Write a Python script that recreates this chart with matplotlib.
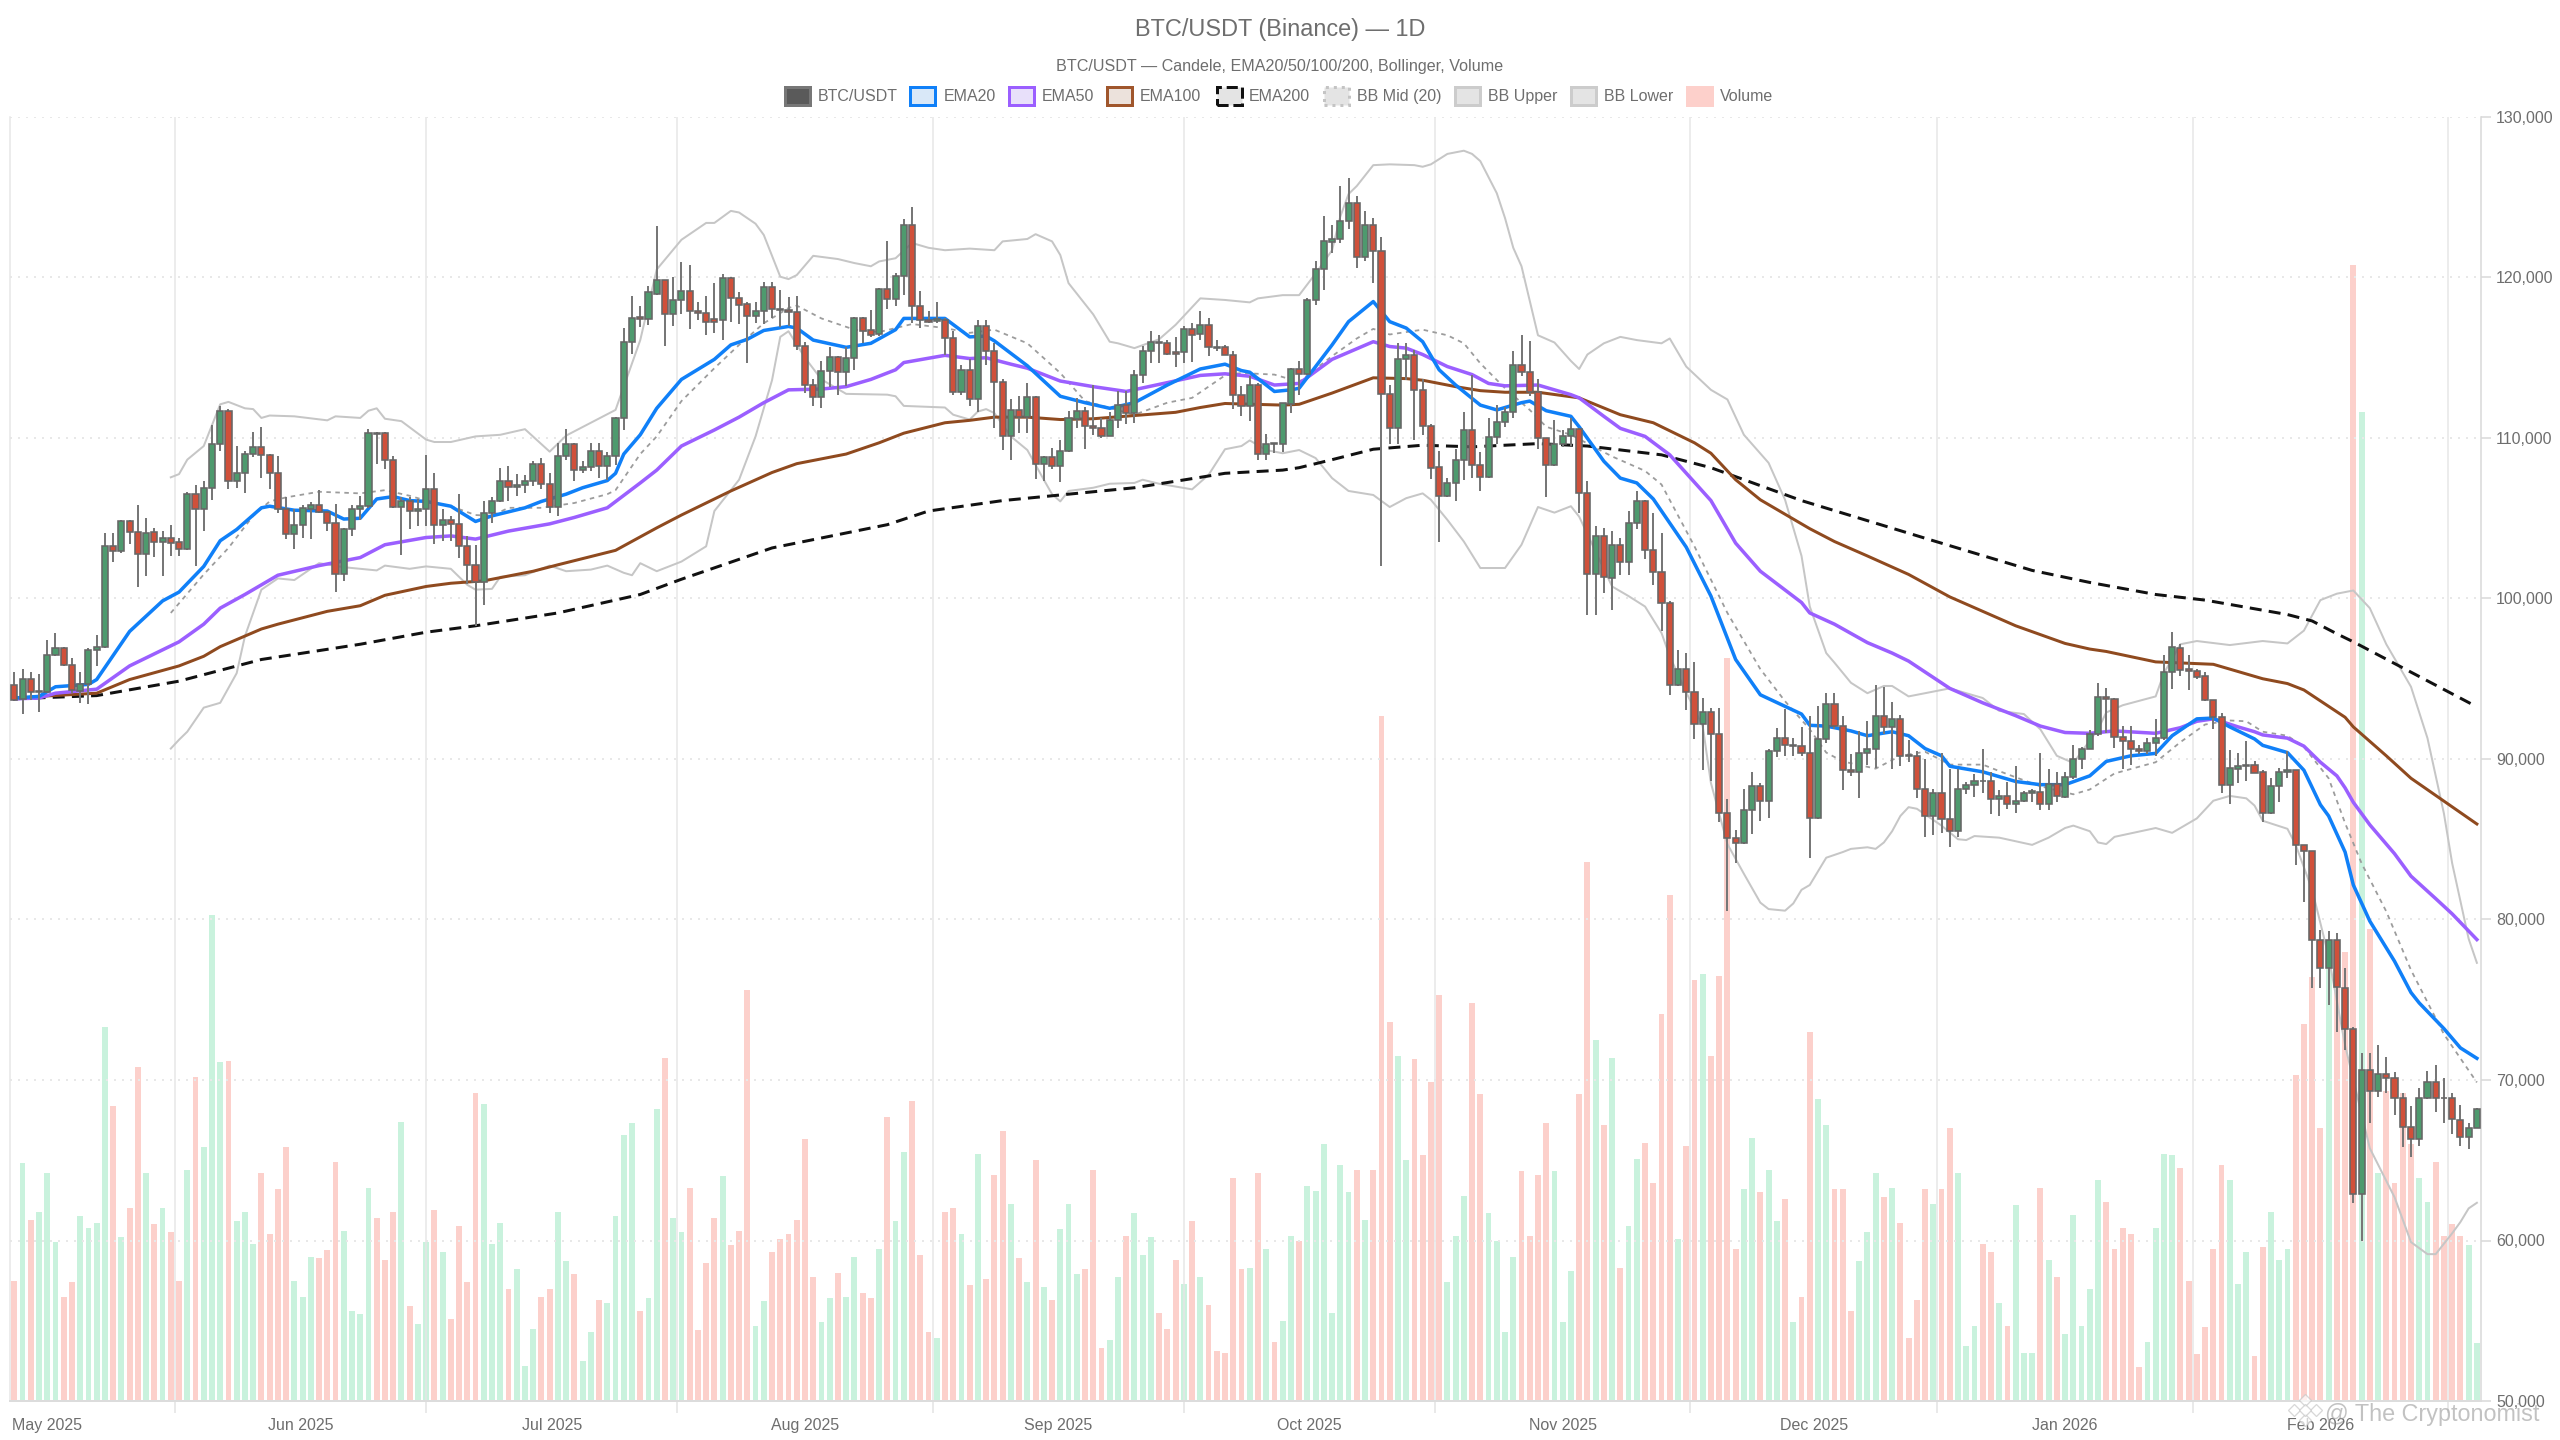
import numpy as np
import matplotlib
matplotlib.use("Agg")
from matplotlib import pyplot as plt
from matplotlib.patches import Rectangle
from matplotlib.ticker import FuncFormatter

plt.rcParams['font.family'] = ['Liberation Sans', 'DejaVu Sans']

# prices in thousands of USDT
opens = [94.6,93.75,95.0,94.15,94.15,96.45,96.9,95.85,94.25,94.7,
         96.8,97.0,103.3,102.95,104.8,104.15,102.8,104.15,103.5,103.75,
         103.5,103.1,106.5,105.55,106.9,109.65,111.7,107.3,107.8,109.0,
         109.45,108.95,107.8,105.6,104.0,104.6,105.6,105.85,105.4,104.7,
         101.5,104.3,105.55,105.75,110.3,110.3,108.65,105.7,106.1,105.45,
         105.6,106.8,104.55,104.9,104.65,103.3,102.1,101.0,105.35,106.1,
         107.35,106.95,107.05,107.3,108.35,107.15,105.7,108.9,109.6,108.0,
         108.2,109.2,108.25,108.9,111.25,116.0,117.55,117.4,119.0,119.85,
         117.75,118.6,119.15,117.9,117.8,117.4,117.35,119.95,118.75,118.35,
         117.6,117.9,119.4,118.05,117.95,117.85,115.75,113.3,112.55,114.2,
         115.05,114.1,115.0,117.45,116.7,116.45,119.3,118.65,120.1,123.3,
         118.25,117.35,117.3,117.35,116.2,112.85,114.25,112.45,116.95,115.4,
         113.5,110.1,111.75,111.3,112.55,108.4,108.8,108.25,109.2,111.2,
         111.7,110.75,110.6,110.15,111.15,112.05,111.55,113.95,115.45,116.0,
         115.9,115.35,115.35,116.8,116.45,117.05,115.7,115.65,115.2,112.65,
         112.0,113.3,109.0,109.7,109.65,112.1,114.3,114.0,118.6,120.55,
         122.2,122.4,123.5,124.65,121.25,123.3,121.65,112.75,110.6,114.95,
         115.15,113.0,110.75,108.2,106.4,107.2,108.65,110.5,108.3,107.55,
         110.05,111.0,111.65,114.55,114.1,112.85,110.0,108.3,109.6,110.1,
         110.55,106.6,101.5,103.9,101.3,103.35,102.3,104.7,106.05,103.05,
         101.65,99.7,94.6,95.6,94.2,92.2,92.95,91.55,86.65,85.1,
         84.75,86.85,88.3,87.4,90.5,91.3,90.8,90.8,90.35,86.3,
         91.25,93.45,92.05,89.3,89.2,90.4,90.65,92.7,92.0,92.5,
         90.25,90.2,88.15,86.45,87.9,86.25,85.5,88.15,88.4,88.65,
         88.6,87.5,87.7,87.2,87.4,87.9,87.95,87.2,88.45,87.65,
         88.85,90.0,90.65,91.55,93.85,93.75,91.35,91.1,90.65,90.5,
         91.0,91.3,95.4,96.9,95.6,95.5,95.15,93.65,92.6,88.4,
         89.4,89.55,89.6,89.2,86.65,88.3,89.2,89.3,84.65,84.25,
         78.75,76.95,78.75,75.75,73.2,62.9,70.6,69.3,70.35,70.15,
         68.85,67.1,66.3,68.85,69.85,68.9,68.85,67.5,66.45,67.0]

closes = [93.7,95.0,94.2,94.25,96.5,96.9,95.85,94.3,94.7,96.8,
          97.0,103.3,102.95,104.8,104.15,102.8,104.1,103.5,103.75,103.45,
          103.1,106.5,105.55,106.9,109.65,111.7,107.3,107.8,109.0,109.45,
          108.95,107.8,105.6,104.0,104.6,105.65,105.85,105.4,104.7,101.5,
          104.3,105.55,105.75,110.3,110.25,108.65,105.7,106.1,105.45,105.6,
          106.8,104.55,104.9,104.65,103.3,102.1,101.0,105.35,106.1,107.35,
          106.95,107.05,107.3,108.35,107.15,105.7,108.9,109.6,108.0,108.2,
          109.2,108.25,108.9,111.25,116.0,117.5,117.4,119.1,119.85,117.75,
          118.6,119.15,117.9,117.8,117.2,117.2,119.95,118.75,118.3,117.6,
          117.9,119.4,118.05,117.95,117.85,115.75,113.3,112.55,114.2,115.05,
          114.1,115.0,117.45,116.65,116.4,119.3,118.65,120.1,123.3,118.25,
          117.35,117.25,117.4,116.2,112.85,114.25,112.45,116.95,115.4,113.5,
          110.1,111.75,111.3,112.55,108.4,108.8,108.25,109.2,111.25,111.7,
          110.75,110.6,110.15,111.1,112.05,111.55,113.95,115.45,116.0,115.9,
          115.25,115.25,116.8,116.4,117.05,115.65,115.6,115.2,112.65,112.0,
          113.3,109.0,109.65,109.65,112.15,114.3,114.0,118.6,120.55,122.25,
          122.4,123.5,124.65,121.3,123.3,121.65,112.75,110.6,114.95,115.2,
          113.0,110.75,108.15,106.4,107.2,108.65,110.5,108.3,107.55,110.05,
          111.0,111.65,114.55,114.1,112.85,110.0,108.3,109.6,110.1,110.55,
          106.6,101.5,103.9,101.35,103.35,102.3,104.7,106.05,103.05,101.65,
          99.7,94.6,95.6,94.2,92.2,92.95,91.55,86.65,85.1,84.75,
          86.85,88.3,87.4,90.5,91.3,90.85,90.85,90.35,86.3,91.25,
          93.45,92.05,89.3,89.2,90.4,90.65,92.7,92.0,92.5,90.2,
          90.2,88.15,86.45,87.9,86.25,85.5,88.15,88.4,88.65,88.6,
          87.5,87.7,87.2,87.4,87.9,88.0,87.2,88.45,87.7,88.85,
          90.0,90.65,91.55,93.85,93.75,91.35,91.1,90.65,90.5,91.0,
          91.3,95.4,96.95,95.55,95.5,95.1,93.65,92.6,88.4,89.45,
          89.55,89.6,89.15,86.65,88.3,89.2,89.3,84.65,84.25,78.75,
          76.95,78.75,75.8,73.2,62.9,70.6,69.3,70.35,70.15,68.85,
          67.1,66.3,68.85,69.85,68.85,68.85,67.55,66.45,67.0,68.2]

highs = [95.4,95.6,95.4,95.3,97.4,97.85,96.95,96.3,95.4,96.9,
         97.7,104.1,104.1,104.9,104.9,105.8,105.0,104.4,104.2,104.55,
         103.8,106.65,107.1,107.3,110.8,112.0,111.8,109.5,109.2,110.4,
         110.7,109.0,108.9,106.3,105.55,105.8,106.0,106.75,105.45,105.9,
         104.4,105.85,106.4,110.55,110.4,110.35,108.85,106.3,106.3,106.2,
         108.95,107.8,105.55,105.15,106.5,103.9,103.35,106.05,106.3,108.15,
         108.25,107.75,107.7,108.55,108.75,107.85,109.7,110.55,109.7,108.55,
         109.7,109.7,109.1,111.3,116.85,118.85,118.2,119.45,123.2,119.85,
         120.0,120.95,120.8,118.5,118.85,119.65,120.2,120.05,119.1,118.5,
         118.5,119.75,119.75,119.2,118.8,118.85,116.0,113.65,114.8,115.65,
         115.1,115.7,117.55,117.55,117.95,119.35,122.3,120.25,123.65,124.4,
         119.15,117.9,118.5,117.45,116.65,114.55,114.9,117.35,117.35,115.9,
         113.65,112.4,112.6,113.4,112.6,108.85,109.35,109.9,111.7,112.5,
         111.95,113.3,111.25,111.65,112.95,112.95,114.25,115.75,116.65,116.4,
         116.1,116.3,116.95,117.15,117.9,117.45,116.1,115.8,115.4,113.25,
         113.85,113.4,110.25,109.7,112.2,114.35,114.8,118.7,121.0,123.85,
         123.3,125.7,126.2,125.1,124.15,123.7,122.55,113.3,115.9,115.95,
         115.5,113.65,110.85,109.2,107.5,109.3,111.65,113.95,109.15,111.25,
         112.05,111.95,115.45,116.4,116.05,113.65,110.0,111.15,110.5,111.25,
         110.6,107.3,104.5,104.4,104.2,103.75,105.45,106.7,106.15,105.35,
         104.1,99.85,96.8,96.6,96.05,93.8,93.2,93.15,87.5,85.6,
         88.1,89.2,88.5,90.6,91.95,93.1,91.3,92.0,92.7,93.3,
         94.1,94.1,92.7,90.3,91.75,92.35,94.6,94.5,93.55,92.75,
         91.2,90.5,90.0,88.1,90.4,89.4,89.35,88.55,89.05,90.6,
         89.2,88.05,88.55,89.55,88.0,88.15,90.4,89.35,89.2,89.2,
         90.9,90.75,91.8,94.75,94.4,93.8,92.05,92.05,90.9,91.3,
         92.5,96.5,97.9,97.15,96.45,95.6,95.45,93.65,92.85,90.55,
         90.35,91.15,89.9,89.3,88.8,89.45,90.5,89.3,84.65,84.25,
         79.35,79.3,79.15,76.95,73.3,71.7,71.7,72.2,71.45,70.5,
         69.2,68.4,69.5,70.55,70.95,70.15,69.2,68.45,67.3,68.25]

lows = [93.6,92.8,93.7,92.9,94.1,96.4,95.8,94.1,93.5,93.4,
        95.8,96.9,102.3,102.85,103.4,100.7,101.4,102.6,101.4,102.65,
        102.65,103.05,102.0,104.2,106.15,109.2,106.85,106.9,106.6,108.8,
        107.5,106.8,105.3,103.7,103.1,103.75,103.7,105.35,104.2,100.4,
        101.1,103.9,104.9,105.65,108.35,108.05,105.65,102.7,104.3,104.5,
        104.5,103.4,103.6,103.6,102.55,100.9,98.3,99.6,104.7,106.0,
        106.05,106.4,106.6,107.0,106.8,105.35,105.15,108.6,107.3,107.85,
        107.95,107.5,107.4,108.3,110.5,115.25,116.9,117.05,118.9,115.75,
        117.0,117.7,116.8,117.35,116.4,116.55,116.1,117.25,117.1,114.7,
        117.15,117.1,117.45,116.9,116.95,115.5,112.8,112.0,111.9,113.2,
        112.7,113.25,114.25,115.9,116.3,116.35,118.05,118.2,118.9,117.15,
        116.85,117.15,117.15,115.2,112.7,112.7,112.0,111.65,114.55,110.6,
        109.25,108.65,110.3,110.3,107.45,107.3,108.05,107.25,109.15,110.6,
        109.3,110.2,110.0,110.1,110.6,110.85,110.95,113.45,114.65,114.7,
        115.2,114.45,114.7,114.75,116.1,115.1,115.4,115.15,111.8,111.35,
        111.05,108.65,108.65,109.05,109.15,111.55,112.65,113.95,118.3,119.25,
        121.5,122.15,123.05,120.6,121.0,119.65,102.0,109.6,109.6,113.6,
        109.9,110.2,107.45,103.55,106.3,106.1,107.4,107.5,106.7,107.5,
        109.65,110.7,111.25,113.85,112.6,109.3,106.3,108.25,109.45,109.5,
        105.35,99.0,99.0,100.35,99.3,101.45,101.45,104.3,102.45,100.85,
        98.0,94.0,94.55,93.05,91.25,89.3,88.6,86.1,80.5,83.55,
        84.7,85.3,86.15,86.35,90.15,90.2,90.2,90.2,83.85,86.25,
        91.0,91.85,88.05,88.95,87.55,89.6,89.45,91.55,89.35,89.55,
        89.8,87.6,85.15,85.25,85.4,84.5,85.15,87.85,87.65,87.9,
        86.6,86.45,86.9,86.65,87.3,87.3,86.8,86.85,87.3,87.6,
        88.75,89.35,90.6,91.45,91.65,90.7,89.35,89.65,90.3,90.3,
        90.2,91.2,94.35,95.15,94.3,95.0,93.6,91.85,87.9,87.2,
        88.5,88.6,89.15,86.1,86.55,87.3,88.8,83.4,81.1,75.75,
        75.75,74.65,73.0,71.9,62.35,60.0,67.35,68.95,69.2,67.8,
        65.8,65.2,65.9,68.8,68.0,67.35,66.65,65.9,65.7,67.0]

# volume in arbitrary units, 80 = full plot height; same order as the candles
volumes = [7.5,14.8,11.3,11.8,14.2,9.9,6.5,7.4,11.5,10.75,
           11.1,23.3,18.4,10.2,12.0,20.8,14.2,11.0,12.0,10.5,
           7.5,14.4,20.2,15.8,30.3,21.1,21.2,11.2,11.8,9.8,
           14.2,10.4,13.2,15.8,7.5,6.5,9.0,8.9,9.4,14.9,
           10.6,5.6,5.4,13.3,11.4,8.8,11.8,17.4,5.9,4.8,
           9.9,11.9,9.3,5.1,10.9,7.4,19.2,18.5,9.8,11.1,
           7.0,8.2,2.2,4.5,6.5,7.0,11.8,8.7,7.9,2.5,
           4.3,6.3,6.1,11.5,16.6,17.3,5.6,6.4,18.2,21.4,
           11.4,10.5,13.3,4.4,8.6,11.4,14.0,9.7,10.6,25.6,
           4.7,6.2,9.3,10.1,10.4,11.3,16.3,7.7,4.9,6.4,
           8.0,6.5,9.0,6.7,6.4,9.5,17.7,11.2,15.5,18.7,
           9.1,4.3,3.9,11.8,12.0,10.4,7.2,15.4,7.6,14.1,
           16.8,12.3,8.9,7.4,15.0,7.1,6.3,10.7,12.3,7.9,
           8.2,14.4,3.3,3.8,7.7,10.3,11.7,9.1,10.2,5.5,
           4.5,8.8,7.3,11.2,7.7,6.0,3.1,3.0,13.9,8.2,
           8.3,14.2,9.5,3.7,5.0,10.3,10.0,13.4,13.1,16.0,
           5.5,14.7,13.0,14.4,11.3,14.4,42.7,23.6,21.5,15.0,
           21.3,15.3,19.9,25.3,7.4,10.3,12.8,24.8,19.1,11.7,
           10.0,4.3,9.0,14.3,10.3,14.1,17.3,14.3,4.9,8.1,
           19.1,33.6,22.5,17.2,21.4,8.3,10.9,15.1,16.1,13.6,
           24.1,31.5,10.1,15.9,26.2,26.6,21.5,26.5,46.3,9.5,
           13.2,16.4,13.0,14.4,11.2,12.6,4.9,6.5,23.0,18.8,
           17.2,13.2,13.2,5.6,8.7,10.5,14.2,12.7,13.3,11.1,
           3.9,6.3,13.2,12.3,13.2,17.0,14.2,3.4,4.7,9.8,
           9.3,6.1,4.7,12.2,3.0,3.0,13.3,8.8,7.7,4.2,
           11.6,4.7,7.0,13.8,12.4,9.5,10.75,10.4,2.1,3.7,
           10.8,15.4,15.3,14.5,7.5,2.9,4.6,9.5,14.7,13.8,
           7.3,9.3,2.8,9.6,11.8,8.8,9.5,20.3,23.5,26.4,
           17.0,28.5,26.0,28.0,70.8,61.6,29.4,14.2,19.3,13.6,
           19.2,16.0,13.9,12.4,14.9,10.3,11.0,10.3,9.7,3.6]

ema20_x = [0,3,5,9,10,14,18,20,23,25,27,30,31,34,38,40,42,44,46,48,50,53,56,58,62,64,67,69,72,73,74,76,78,81,85,87,89,91,94,95,97,101,104,107,108,113,116,118,119,123,127,130,133,136,140,144,147,149,150,153,155,156,160,162,165,167,169,171,173,175,178,180,183,184,186,189,190,193,195,197,199,203,206,209,212,217,218,220,223,225,228,230,232,234,235,239,243,246,249,252,254,257,260,262,265,267,269,272,273,276,278,280,281,283,284,286,289,291,292,295,297,299]
ema20 = [93.8,93.9,94.5,94.65,94.95,97.95,99.85,100.4,102.0,103.6,104.3,105.65,105.75,105.5,105.45,104.95,105.0,106.2,106.35,106.1,106.05,105.75,104.8,105.15,105.65,106.05,106.5,106.9,107.35,107.8,109.0,110.2,111.85,113.65,114.9,115.8,116.15,116.7,116.95,116.85,116.1,115.65,115.9,116.75,117.45,117.45,116.3,116.35,116.05,114.5,112.6,112.2,111.85,112.2,113.3,114.3,114.6,114.2,114.1,112.9,113.0,113.1,115.8,117.25,118.5,117.25,116.85,116.0,114.25,113.3,112.05,111.75,112.2,112.3,111.7,111.35,110.7,108.55,107.5,107.2,106.2,103.2,100.15,96.2,94.0,92.8,92.1,92.05,91.75,91.45,91.7,91.45,90.65,90.2,89.55,89.2,88.6,88.4,88.4,88.95,89.85,90.2,90.35,91.45,92.5,92.55,92.0,91.25,90.85,90.4,89.3,87.15,86.45,84.2,82.15,79.9,77.4,75.45,74.8,73.2,72.0,71.35]

ema50_x = [0,3,5,10,14,20,23,25,28,32,37,42,45,50,53,56,60,65,68,72,76,78,81,85,88,91,94,98,101,104,107,108,113,116,118,121,123,127,131,135,140,144,147,150,153,156,160,165,167,169,171,174,177,179,181,185,187,189,190,193,195,198,201,206,209,212,217,218,221,225,228,230,235,239,243,246,249,252,255,260,263,265,267,270,272,273,276,278,280,282,283,284,286,289,291,294,296,299]
ema50 = [93.75,93.8,94.1,94.35,95.8,97.3,98.4,99.4,100.25,101.45,102.05,102.55,103.35,103.8,103.9,103.7,104.2,104.65,105.05,105.65,107.2,108.0,109.5,110.5,111.3,112.2,113.0,113.05,113.2,113.65,114.25,114.7,115.15,114.95,115.0,114.6,114.35,113.55,113.2,112.9,113.45,113.9,114.0,113.85,113.3,113.4,114.9,116.0,115.7,115.6,115.2,114.45,113.95,113.4,113.25,113.3,113.0,112.7,112.5,111.35,110.6,110.1,108.95,106.1,103.45,101.7,99.75,99.1,98.4,97.25,96.6,96.1,94.4,93.5,92.7,92.05,91.65,91.6,91.75,91.6,91.95,92.35,92.5,92.0,91.7,91.5,91.3,90.8,89.8,88.95,88.2,87.3,85.9,84.1,82.7,81.3,80.35,78.75]

ema100_x = [0,3,10,14,20,23,25,30,32,38,42,45,50,53,57,63,66,73,78,81,87,92,95,101,105,108,113,116,119,123,127,131,136,141,144,147,154,156,160,165,169,171,175,178,181,185,190,195,199,204,206,209,212,218,221,225,230,235,243,249,252,254,260,267,273,276,278,283,284,288,291,299]
ema100 = [93.75,93.9,94.1,94.95,95.8,96.4,97.0,98.1,98.4,99.2,99.55,100.2,100.75,100.95,101.1,101.7,102.1,103.0,104.4,105.2,106.7,107.85,108.4,109.0,109.7,110.3,110.95,111.1,111.3,111.3,111.15,111.2,111.4,111.6,111.9,112.15,112.05,112.1,112.8,113.75,113.7,113.6,113.2,112.95,112.85,112.85,112.5,111.45,110.95,109.7,109.05,107.4,106.15,104.35,103.55,102.65,101.5,100.1,98.3,97.2,96.85,96.7,96.05,95.9,95.0,94.7,94.3,92.6,92.0,90.2,88.8,85.95]

ema200_x = [0,10,20,30,42,50,56,66,76,81,92,106,111,120,127,136,144,147,154,156,160,165,171,177,185,191,200,206,217,233,245,252,260,266,276,279,282,284,299]
ema200 = [93.75,93.95,94.85,96.2,97.15,97.9,98.3,99.1,100.25,101.2,103.15,104.6,105.45,106.1,106.45,106.9,107.55,107.8,108.0,108.15,108.65,109.3,109.55,109.45,109.65,109.5,108.95,108.15,106.1,103.6,101.75,101.0,100.25,99.9,99.0,98.6,97.8,97.3,93.25]

bb_mid_x = [19,23,26,29,31,33,37,42,45,48,51,53,56,58,60,64,68,72,73,76,78,81,85,88,91,94,95,98,102,105,109,113,116,119,123,127,130,136,140,143,147,149,153,156,160,163,165,167,171,174,176,178,181,184,186,189,194,198,200,204,208,212,215,218,220,222,226,229,232,235,239,242,246,250,252,255,260,263,266,269,271,273,276,278,281,283,285,288,291,295,299]
bb_mid = [99.1,101.5,103.15,105.15,106.05,106.3,106.65,106.55,106.75,106.4,105.95,105.75,105.2,105.15,105.65,105.65,105.95,106.5,106.75,109.0,110.1,112.3,114.35,115.8,117.15,118.1,118.25,117.45,116.75,116.6,117.1,116.85,116.55,116.75,115.9,114.05,112.3,111.45,112.2,112.5,113.9,114.05,113.95,113.5,115.1,116.2,116.8,116.45,116.75,116.4,115.9,114.65,113.1,111.75,110.7,110.2,108.85,107.95,107.1,103.25,99.1,95.6,93.6,91.85,90.4,89.85,89.4,90.2,90.45,89.65,89.65,89.05,88.3,87.8,88.1,89.1,89.8,91.05,92.15,92.4,92.35,91.7,91.45,90.75,88.8,86.0,83.5,80.5,76.85,72.85,69.85]

bb_up_x = [19,20,21,23,25,26,28,29,30,31,34,38,39,42,43,44,45,47,50,51,53,56,59,62,65,67,70,73,74,76,78,81,84,85,87,88,90,91,93,94,95,97,100,102,104,105,107,109,111,113,116,119,120,123,124,126,127,128,131,133,134,136,139,141,144,147,150,151,154,156,158,160,161,162,163,165,167,170,171,172,174,176,177,178,180,181,182,183,185,187,189,190,191,193,195,197,200,201,203,206,208,210,213,215,217,218,220,221,223,225,227,228,230,232,235,239,241,244,246,248,250,253,254,256,260,261,263,265,269,273,276,278,280,282,284,286,288,291,293,295,296,298,299]
bb_up = [107.55,107.75,108.65,109.5,112.1,112.25,111.85,111.8,111.25,111.4,111.35,111.1,111.35,111.25,111.7,111.85,111.2,111.05,109.9,109.75,109.75,110.1,110.2,110.55,109.15,110.15,110.95,111.75,113.2,116.1,120.5,122.35,123.4,123.4,124.15,124.05,123.35,122.65,120.05,119.9,120.15,121.35,121.15,120.9,120.7,121.0,121.2,122.15,121.85,121.7,121.8,121.7,122.25,122.4,122.7,122.25,121.4,119.65,117.7,116.0,115.9,115.6,116.15,117.05,118.7,118.6,118.45,118.7,118.9,118.9,120.25,121.7,123.8,125.2,125.7,127.0,127.05,127.0,126.9,127.05,127.7,127.9,127.7,127.25,125.25,123.7,121.85,120.7,116.4,115.95,114.8,114.3,115.2,115.9,116.3,116.1,115.9,116.2,114.45,113.0,112.4,110.2,108.45,106.15,102.65,99.5,96.6,96.0,94.75,94.1,94.55,94.55,93.9,94.1,94.4,93.8,93.0,92.8,91.85,90.2,89.75,91.85,92.9,93.35,93.9,95.35,97.15,97.35,97.1,97.35,97.2,98.0,99.9,100.3,100.5,99.4,97.15,94.5,91.3,86.6,83.5,78.8,77.3]

bb_lo_x = [19,20,21,23,25,27,28,30,32,34,37,40,44,45,48,50,53,55,56,58,59,62,65,67,70,72,74,75,76,78,81,84,85,88,90,92,93,94,96,98,101,106,107,108,113,114,116,117,118,119,121,123,125,126,127,128,131,133,136,137,139,143,145,147,149,150,152,154,156,158,160,162,165,167,169,171,172,174,176,178,181,183,185,187,189,190,194,196,198,200,201,203,205,206,208,210,212,213,215,216,217,218,220,222,223,225,226,227,228,229,230,231,234,236,237,238,241,245,247,249,250,252,253,254,255,260,262,265,267,269,271,272,273,276,277,279,281,283,286,289,291,293,294,296,297,298,299]
bb_lo = [90.65,91.2,91.7,93.2,93.5,95.35,97.65,100.55,101.25,101.15,102.2,101.95,101.75,102.05,101.85,102.0,101.85,100.85,100.55,100.6,101.35,101.45,102.05,101.7,101.8,102.05,101.6,101.45,102.2,101.7,102.3,103.25,105.45,107.4,110.1,113.6,116.3,116.65,115.0,113.65,112.75,112.7,112.6,112.0,111.9,111.45,111.15,111.65,111.8,111.55,110.1,109.25,107.4,106.5,106.05,106.7,106.9,107.15,107.2,107.4,107.15,106.8,107.7,109.3,109.5,109.85,109.25,109.05,109.25,108.75,107.5,106.7,106.45,105.7,106.25,106.55,106.15,104.9,103.55,101.9,101.9,103.35,105.7,105.35,105.75,105.1,100.75,100.15,99.5,97.85,96.4,94.15,92.05,88.5,84.7,82.85,81.05,80.65,80.55,81.0,81.85,82.15,83.85,84.2,84.4,84.5,84.4,84.8,85.5,86.45,87.0,86.9,85.85,85.0,84.95,85.2,85.1,84.65,85.1,85.7,85.85,85.5,84.8,84.7,85.15,85.7,85.4,86.3,87.4,87.7,87.55,87.1,86.15,85.65,84.65,81.85,77.7,72.15,65.75,62.7,59.9,59.15,59.15,60.45,61.15,62.0,62.35]

# the month lines fall between bars, in bar units
month_lines = [19.5, 50, 80.5, 111.5, 142, 172.5, 203.5, 233.5, 264.5, 295.5]
month_labels = ["May 2025", "Jun 2025", "Jul 2025", "Aug 2025", "Sep 2025", "Oct 2025",
                "Nov 2025", "Dec 2025", "Jan 2026", "Feb 2026"]
price_ticks = [50000, 60000, 70000, 80000, 90000, 100000, 110000, 120000, 130000]

legend_names = ["BTC/USDT", "EMA20", "EMA50", "EMA100", "EMA200", "BB Mid (20)", "BB Upper", "BB Lower", "Volume"]
legend_edge = ["#777777", "#1080f8", "#9b5fff", "#a0562c", "#111111", "#c4c4c4", "#cccccc", "#cccccc", "#fdd0cb"]
legend_fill = ["#5a5a5a", "#d9e8f8", "#e8e0fa", "#ece2dc", "#e4e4e4", "#e4e4e4", "#e4e4e4", "#e4e4e4", "#fdd0cb"]
legend_style = ["-", "-", "-", "-", "--", ":", "-", "-", "-"]
legend_box_px = [785, 910, 1009, 1107, 1217, 1324, 1455, 1571, 1687]
legend_text_px = [818, 944, 1042, 1140, 1249, 1357, 1488, 1604, 1720]

W, H = 2560, 1440
TEXT = "#6e6e6e"
UP, DOWN = "#4e9a6e", "#d0503a"
VOL_UP, VOL_DOWN = "#c9f2dd", "#fcd0cb"


def px(n):
    # pixels to points at dpi 100
    return n * 0.72


o, c = np.array(opens) * 1000, np.array(closes) * 1000
h, l = np.array(highs) * 1000, np.array(lows) * 1000
vol = np.array(volumes)
x = np.arange(len(o))
is_up = c >= o
vol_colors = np.where(is_up, VOL_UP, VOL_DOWN)

fig = plt.figure(figsize=(W / 100, H / 100), dpi=100)
rect = [10.2 / W, 1 - 1401 / H, (2481 - 10.2) / W, (1401 - 117) / H]
ax_vol = fig.add_axes(rect)
ax = fig.add_axes(rect, sharex=ax_vol)
ax.patch.set_alpha(0)

ax_vol.bar(x, vol, width=0.71, color=vol_colors, linewidth=0)
ax_vol.set_ylim(0, 80)
ax_vol.axis("off")

ax.set_xlim(-0.5, 299.5)
ax.set_ylim(50000, 130000)

ax.set_axisbelow(True)
ax.yaxis.tick_right()
ax.set_yticks(price_ticks)
ax.yaxis.set_major_formatter(FuncFormatter(lambda v, _: f"{int(v):,}"))
ax.tick_params(axis="y", length=px(10), width=px(1.5), color="#d8d8d8", labelcolor=TEXT,
               labelsize=px(16), pad=px(5))
ax.set_xticks(month_lines)
ax.set_xticklabels([])
ax.tick_params(axis="x", length=px(12), width=px(1.5), color="#e2e2e2")
ax.grid(axis="y", color="#e8e8e8", linestyle=(0, (1, 3)), linewidth=px(2))
ax.grid(axis="x", color="#e6e6e6", linestyle="-", linewidth=px(1.5))
ax.spines["top"].set_visible(False)
ax.spines["left"].set_color("#e6e6e6")
ax.spines["left"].set_linewidth(px(1.5))
ax.spines["right"].set_color("#d8d8d8")
ax.spines["right"].set_linewidth(px(1.5))
ax.spines["bottom"].set_color("#dcdcdc")
ax.spines["bottom"].set_linewidth(px(2))

# bollinger bands and emas go under the candles
ax.plot(bb_up_x, np.array(bb_up) * 1000, color="#c6c6c6", lw=px(2), zorder=2.2)
ax.plot(bb_lo_x, np.array(bb_lo) * 1000, color="#c6c6c6", lw=px(2), zorder=2.2)
ax.plot(bb_mid_x, np.array(bb_mid) * 1000, color="#9c9c9c", lw=px(1.8), ls=(0, (2.5, 2.5)), zorder=2.2)
ax.plot(ema200_x, np.array(ema200) * 1000, color="#111111", lw=px(3), ls=(0, (4, 2.4)), zorder=2.4)
ax.plot(ema100_x, np.array(ema100) * 1000, color="#8f4a1f", lw=px(3), zorder=2.5)
ax.plot(ema50_x, np.array(ema50) * 1000, color="#9b5fff", lw=px(3.5), zorder=2.6)
ax.plot(ema20_x, np.array(ema20) * 1000, color="#1080f8", lw=px(3.5), zorder=2.7)

ax.vlines(x, l, h, color="#777777", lw=px(2), zorder=3)
ax.bar(x, np.abs(c - o), bottom=np.minimum(o, c), width=0.74,
       color=np.where(is_up, UP, DOWN), edgecolor="#666666", linewidth=px(1.6), zorder=3.2)

# x labels sit between the month lines, May starts flush left
label_tf = ax.get_xaxis_transform()
label_y = -(1425.5 - 1401) / (1401 - 117)
ax.text(-0.3, label_y, month_labels[0], transform=label_tf, ha="left", va="center",
        color=TEXT, fontsize=px(16))
for i in range(1, len(month_labels)):
    mid = (month_lines[i - 1] + month_lines[i]) / 2
    ax.text(mid, label_y, month_labels[i], transform=label_tf, ha="center", va="center",
            color=TEXT, fontsize=px(16))

fig.text(0.5, 1 - 29.5 / H, "BTC/USDT (Binance) — 1D", ha="center", va="center", color=TEXT, fontsize=px(23.5))
fig.text(0.5, 1 - 66.5 / H, "BTC/USDT — Candele, EMA20/50/100/200, Bollinger, Volume",
         ha="center", va="center", color=TEXT, fontsize=px(16.1))

for name, edge, fill, style, box_x, text_x in zip(legend_names, legend_edge, legend_fill, legend_style,
                                                  legend_box_px, legend_text_px):
    fig.add_artist(Rectangle((box_x / W, 1 - 105 / H), 25 / W, 18 / H, transform=fig.transFigure,
                             facecolor=fill, edgecolor=edge, linewidth=px(3), linestyle=style))
    fig.text(text_x / W, 1 - 96.5 / H, name, ha="left", va="center", color=TEXT, fontsize=px(16))

# watermark
fig.text(2325 / W, 1 - 1415 / H, "@ The Cryptonomist", ha="left", va="center", color="#9a9a9a",
         alpha=0.6, fontsize=px(23.4), zorder=10)
for mx, my in [(2305, 1400), (2294, 1410), (2316, 1410), (2305, 1420), (2305, 1410)]:
    fig.add_artist(plt.Line2D([mx / W], [1 - my / H], marker="D", ms=px(8), mfc="#ffffff", mew=px(1.3),
                              mec="#c8c8c8", alpha=0.7, transform=fig.transFigure))

fig.savefig("out.png", dpi=100)
